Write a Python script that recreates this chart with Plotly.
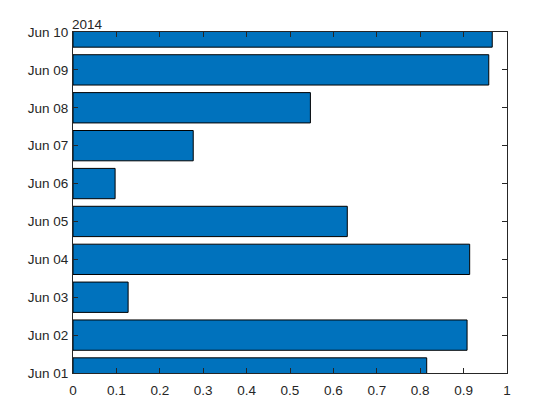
import plotly.graph_objects as go

dates = ["2014-06-01", "2014-06-02", "2014-06-03", "2014-06-04", "2014-06-05",
         "2014-06-06", "2014-06-07", "2014-06-08", "2014-06-09", "2014-06-10"]
values = [0.815, 0.908, 0.127, 0.914, 0.632, 0.097, 0.277, 0.547, 0.958, 0.966]
x_ticks = [0, 0.1, 0.2, 0.3, 0.4, 0.5, 0.6, 0.7, 0.8, 0.9, 1]
x_tick_text = ["0", "0.1", "0.2", "0.3", "0.4", "0.5", "0.6", "0.7", "0.8", "0.9", "1"]
year_label = "2014"

DAY_MS = 86400000
FONT = dict(family="Liberation Sans, Arial, sans-serif", size=13.5, color="#262626")

fig = go.Figure(go.Bar(
    x=values, y=dates, orientation="h",
    width=0.8 * DAY_MS,
    marker=dict(color="#0072BD", line=dict(color="black", width=1)),
))

axis_common = dict(
    showline=True, linecolor="#262626", linewidth=1, mirror="ticks",
    ticks="inside", ticklen=5, tickcolor="#262626", tickwidth=1,
    showgrid=False, zeroline=False,
    tickfont=FONT,
)

fig.update_layout(
    width=560, height=420,
    margin=dict(l=65, r=61, t=23.5, b=54.5),
    paper_bgcolor="white", plot_bgcolor="white",
    showlegend=False,
    xaxis=dict(range=[0, 1], tickvals=x_ticks, ticktext=x_tick_text,
               ticklabelstandoff=5, **axis_common),
    yaxis=dict(type="date", range=[dates[0], dates[-1]], dtick=DAY_MS,
               tick0=dates[0], tickformat="%b %d", ticklabelstandoff=1, **axis_common),
    annotations=[dict(text=year_label, xref="paper", yref="paper", x=0, y=1,
                      xanchor="left", yanchor="bottom", showarrow=False,
                      xshift=-3, yshift=-2, font=FONT)],
)

fig.write_html("out.html")
